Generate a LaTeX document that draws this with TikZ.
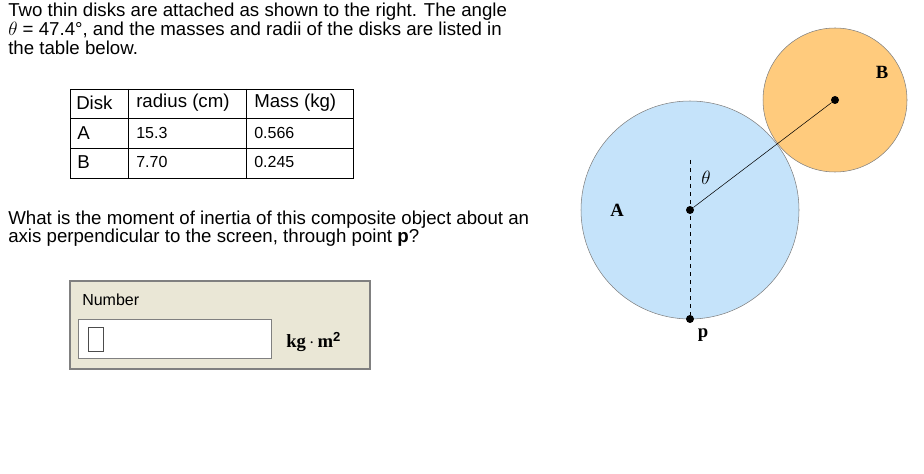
\documentclass[tikz,border=0pt]{standalone}
\usepackage{fontspec}
\setmainfont{Liberation Sans}
\newfontfamily\serifbold{Liberation Serif}
\usetikzlibrary{positioning}
\definecolor{diskblue}{HTML}{C5E3FA}
\definecolor{diskorange}{HTML}{FFCB7D}
\definecolor{panelbg}{HTML}{EAE7D6}
\begin{document}
\begin{tikzpicture}[x=0.75pt, y=-0.75pt, font=\fontsize{14}{15}\selectfont]
    \tikzset{
        txt/.style = {anchor=west, inner sep=0pt},
        cell/.style = {anchor=west, inner sep=0pt, font=\fontsize{12}{13}\selectfont},
        lbl/.style = {inner sep=0pt, font=\serifbold\bfseries\fontsize{14}{15}\selectfont},
        dot/.style = {circle, fill=black, inner sep=0pt, minimum size=6pt}
    }
    \useasboundingbox (0,0) rectangle (924,474);

    % Problem text
    \node[txt] (l1) at (8,12) {Two thin disks are attached as shown to the right. The angle};
    \node[txt] (l2) at (8,30) {$\theta$ = 47.4°, and the masses and radii of the disks are listed in};
    \node[txt] (l3) at (8,48) {the table below.};

    % Table
    \draw[thin] (70,89) rectangle (353,178);
    \draw[thin] (70,118) -- (353,118) (70,148) -- (353,148);
    \draw[thin] (128,89) -- (128,178) (246,89) -- (246,178);
    \node[txt] (h1) at (76,103) {Disk};
    \node[txt] (h2) at (136,103) {radius (cm)};
    \node[txt] (h3) at (254,103) {Mass (kg)};
    \node[txt] (a1) at (77,133) {A};
    \node[cell] (a2) at (136,133) {15.3};
    \node[cell] (a3) at (254,133) {0.566};
    \node[txt] (b1) at (77,162) {B};
    \node[cell] (b2) at (136,162) {7.70};
    \node[cell] (b3) at (254,162) {0.245};

    % Question
    \node[txt] (q1) at (8,220) {What is the moment of inertia of this composite object about an};
    \node[txt] (q2) at (8,238) {axis perpendicular to the screen, through point \textbf{p}?};

    % Answer panel
    \draw[gray, line width=1.5pt, fill=panelbg] (70,281) rectangle (370,369);
    \node[cell] (num) at (82,300) {Number};
    \draw[gray, fill=white] (78,319) rectangle (271,358);
    \draw[black!70, fill=white] (88,327) rectangle (103,351);
    \node[lbl, anchor=west] (unit) at (286,342) {kg\,$\cdot$\,m$^{\mathbf{2}}$};

    % Disks
    \draw[gray, fill=diskblue] (690,210) circle (109);
    \draw[gray, fill=diskorange] (835,100) circle (72);
    \node[dot] (pivot) at (690,210) {};
    \node[dot] (p) at (690,319) {};
    \node[dot] (cb) at (835,100) {};
    \coordinate (top) at (690,160);
    \draw[dashed] (top) -- (p);
    \draw (pivot) -- (cb);
    \node[inner sep=0pt] (theta) at (706,178) {$\theta$};
    \node[lbl] (la) at (617,210) {A};
    \node[lbl] (lb) at (882,72) {B};
    \node[lbl] (lp) at (703,335) {p};
\end{tikzpicture}
\end{document}
